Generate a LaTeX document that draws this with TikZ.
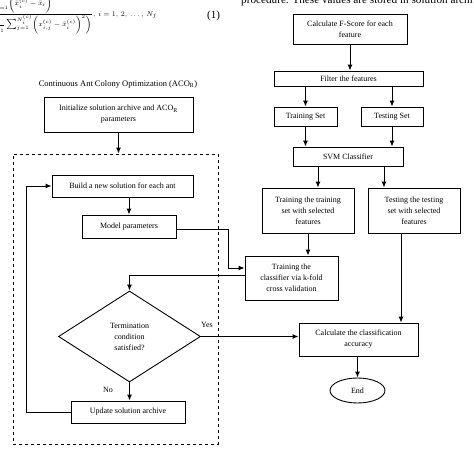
\documentclass[tikz,border=0pt]{standalone}
\usepackage{fontspec}
\setmainfont{Liberation Serif}
\usetikzlibrary{arrows.meta,shapes.geometric,calc}
\tikzset{
  box/.style={draw, line width=0.9pt, rectangle, align=center, inner sep=1pt,
    font=\fontsize{8}{11}\selectfont},
  arr/.style={line width=1pt, -{Latex[length=6pt,width=5pt]}},
  ln/.style={line width=1pt},
  lbl/.style={font=\fontsize{8}{11}\selectfont, inner sep=0pt}
}
\begin{document}
\begin{tikzpicture}[x=1pt,y=-1pt]
\clip (0,0) rectangle (474,458);
\fill[white] (0,0) rectangle (474,458);
% paper fragments at top
\node[anchor=base east, inner sep=0pt, font=\fontsize{7.2}{8}\selectfont] (eq) at (93,15.5)
  {$\frac{\textstyle\sum_{c=1}^{k}\bigl(\bar{x}_i^{(c)}-\bar{x}_i\bigr)^2}{\textstyle\sum_{c=1}^{k}\Bigl(\frac{1}{N_i^{(c)}-1}\sum_{j=1}^{N_i^{(c)}}\bigl(x_{i,j}^{(c)}-\bar{x}_i^{(c)}\bigr)^2\Bigr)}$};
\node[anchor=base west, inner sep=0pt, font=\fontsize{6.6}{7}\selectfont] (eqi) at (93,16.5)
  {$,\,i=1,\,2,\,\ldots,\,N_f$};
\node[anchor=base, inner sep=0pt, font=\fontsize{11}{13}\selectfont] (eqn) at (213.5,18) {(1)};
\node[anchor=base west, inner sep=0pt, font=\fontsize{11.2}{13}\selectfont] (para) at (241,3.5)
  {procedure. These values are stored in solution archive};
% right column
\node[box, minimum width=114pt, minimum height=30pt] (fscore) at (350,29) {Calculate F-Score for each\\feature};
\node[box, minimum width=149pt, minimum height=15pt] (filter) at (348.5,78.5) {Filter the features};
\node[box, minimum width=63pt, minimum height=19pt] (trainset) at (305.5,116.5) {Training Set};
\node[box, minimum width=62pt, minimum height=19pt] (testset) at (392,116.5) {Testing Set};
\node[box, minimum width=110pt, minimum height=19pt] (svm) at (348,156.5) {SVM Classifier};
\node[box, minimum width=92pt, minimum height=45pt] (trainsel) at (308,210.5) {Training the training\\set with selected\\features};
\node[box, minimum width=92pt, minimum height=45pt] (testsel) at (414,210.5) {Testing the testing\\set with selected\\features};
\node[box, minimum width=93pt, minimum height=44pt] (kfold) at (291.5,278) {Training the\\classifier via k-fold\\cross validation};
\node[box, minimum width=119pt, minimum height=33pt] (acc) at (358.5,339.5) {Calculate the classification\\accuracy};
\node[box, ellipse, minimum width=55pt, minimum height=25pt] (end) at (357.5,390.5) {End};
% left column
\node[lbl, font=\fontsize{8.5}{11}\selectfont] (title) at (118,84) {Continuous Ant Colony Optimization (ACO\textsubscript{R})};
\node[box, minimum width=149pt, minimum height=35pt] (init) at (118.5,114.5) {Initialize solution archive and ACO\textsubscript{R}\\parameters};
\node[draw, dashed, line width=0.9pt, minimum width=205pt, minimum height=290pt, inner sep=0pt] (loop) at (115.5,299) {};
\node[box, minimum width=141pt, minimum height=22pt] (build) at (122.5,186) {Build a new solution for each ant};
\node[box, minimum width=94pt, minimum height=23pt] (model) at (129,226.5) {Model parameters};
\node[box, diamond, minimum width=142pt, minimum height=91pt, inner sep=0pt] (dia) at (129.5,336.5) {Termination\\condition\\satisfied?};
\node[box, minimum width=114pt, minimum height=22pt] (update) at (128,412) {Update solution archive};
\node[lbl] (yes) at (207,325) {Yes};
\node[lbl] (no) at (108,390) {No};
% connectors right
\draw[arr] (fscore.south) -- (fscore.south |- filter.north);
\draw[arr] (filter.south -| trainset.north) -- (trainset.north);
\draw[arr] (filter.south -| testset.north) -- (testset.north);
\draw[arr] (trainset.south) -- (trainset.south |- svm.north);
\draw[arr] (testset.south) -- (testset.south |- svm.north);
\draw[arr] ([xshift=10pt]svm.south -| trainsel.north) -- ([xshift=10pt]trainsel.north);
\draw[arr] ([xshift=-30pt]svm.south -| testsel.north) -- ([xshift=-30pt]testsel.north);
\draw[arr] (trainsel.south) -- (trainsel.south |- kfold.north);
\draw[arr] ([xshift=-13pt]testsel.south) -- ([xshift=-13pt]testsel.south |- acc.north);
\draw[arr] ([xshift=-1pt]acc.south) -- ([xshift=-1pt]acc.south |- end.north);
% connectors left
\draw[arr] (init.south) -- (init.south |- loop.north);
\draw[arr] (build.south -| model.north) -- (model.north);
\draw[arr] ([yshift=-2.5pt]model.east) -- ++(52,0) |- ([yshift=10pt]kfold.west);
\draw[arr] ([yshift=3pt]kfold.west) -| (dia.north);
\draw[arr] (dia.east) -- (dia.east -| acc.west);
\draw[arr] (dia.south) -- (dia.south |- update.north);
\draw[arr] (update.west) -- ++(-44,0) |- (build.west);
\end{tikzpicture}
\end{document}
